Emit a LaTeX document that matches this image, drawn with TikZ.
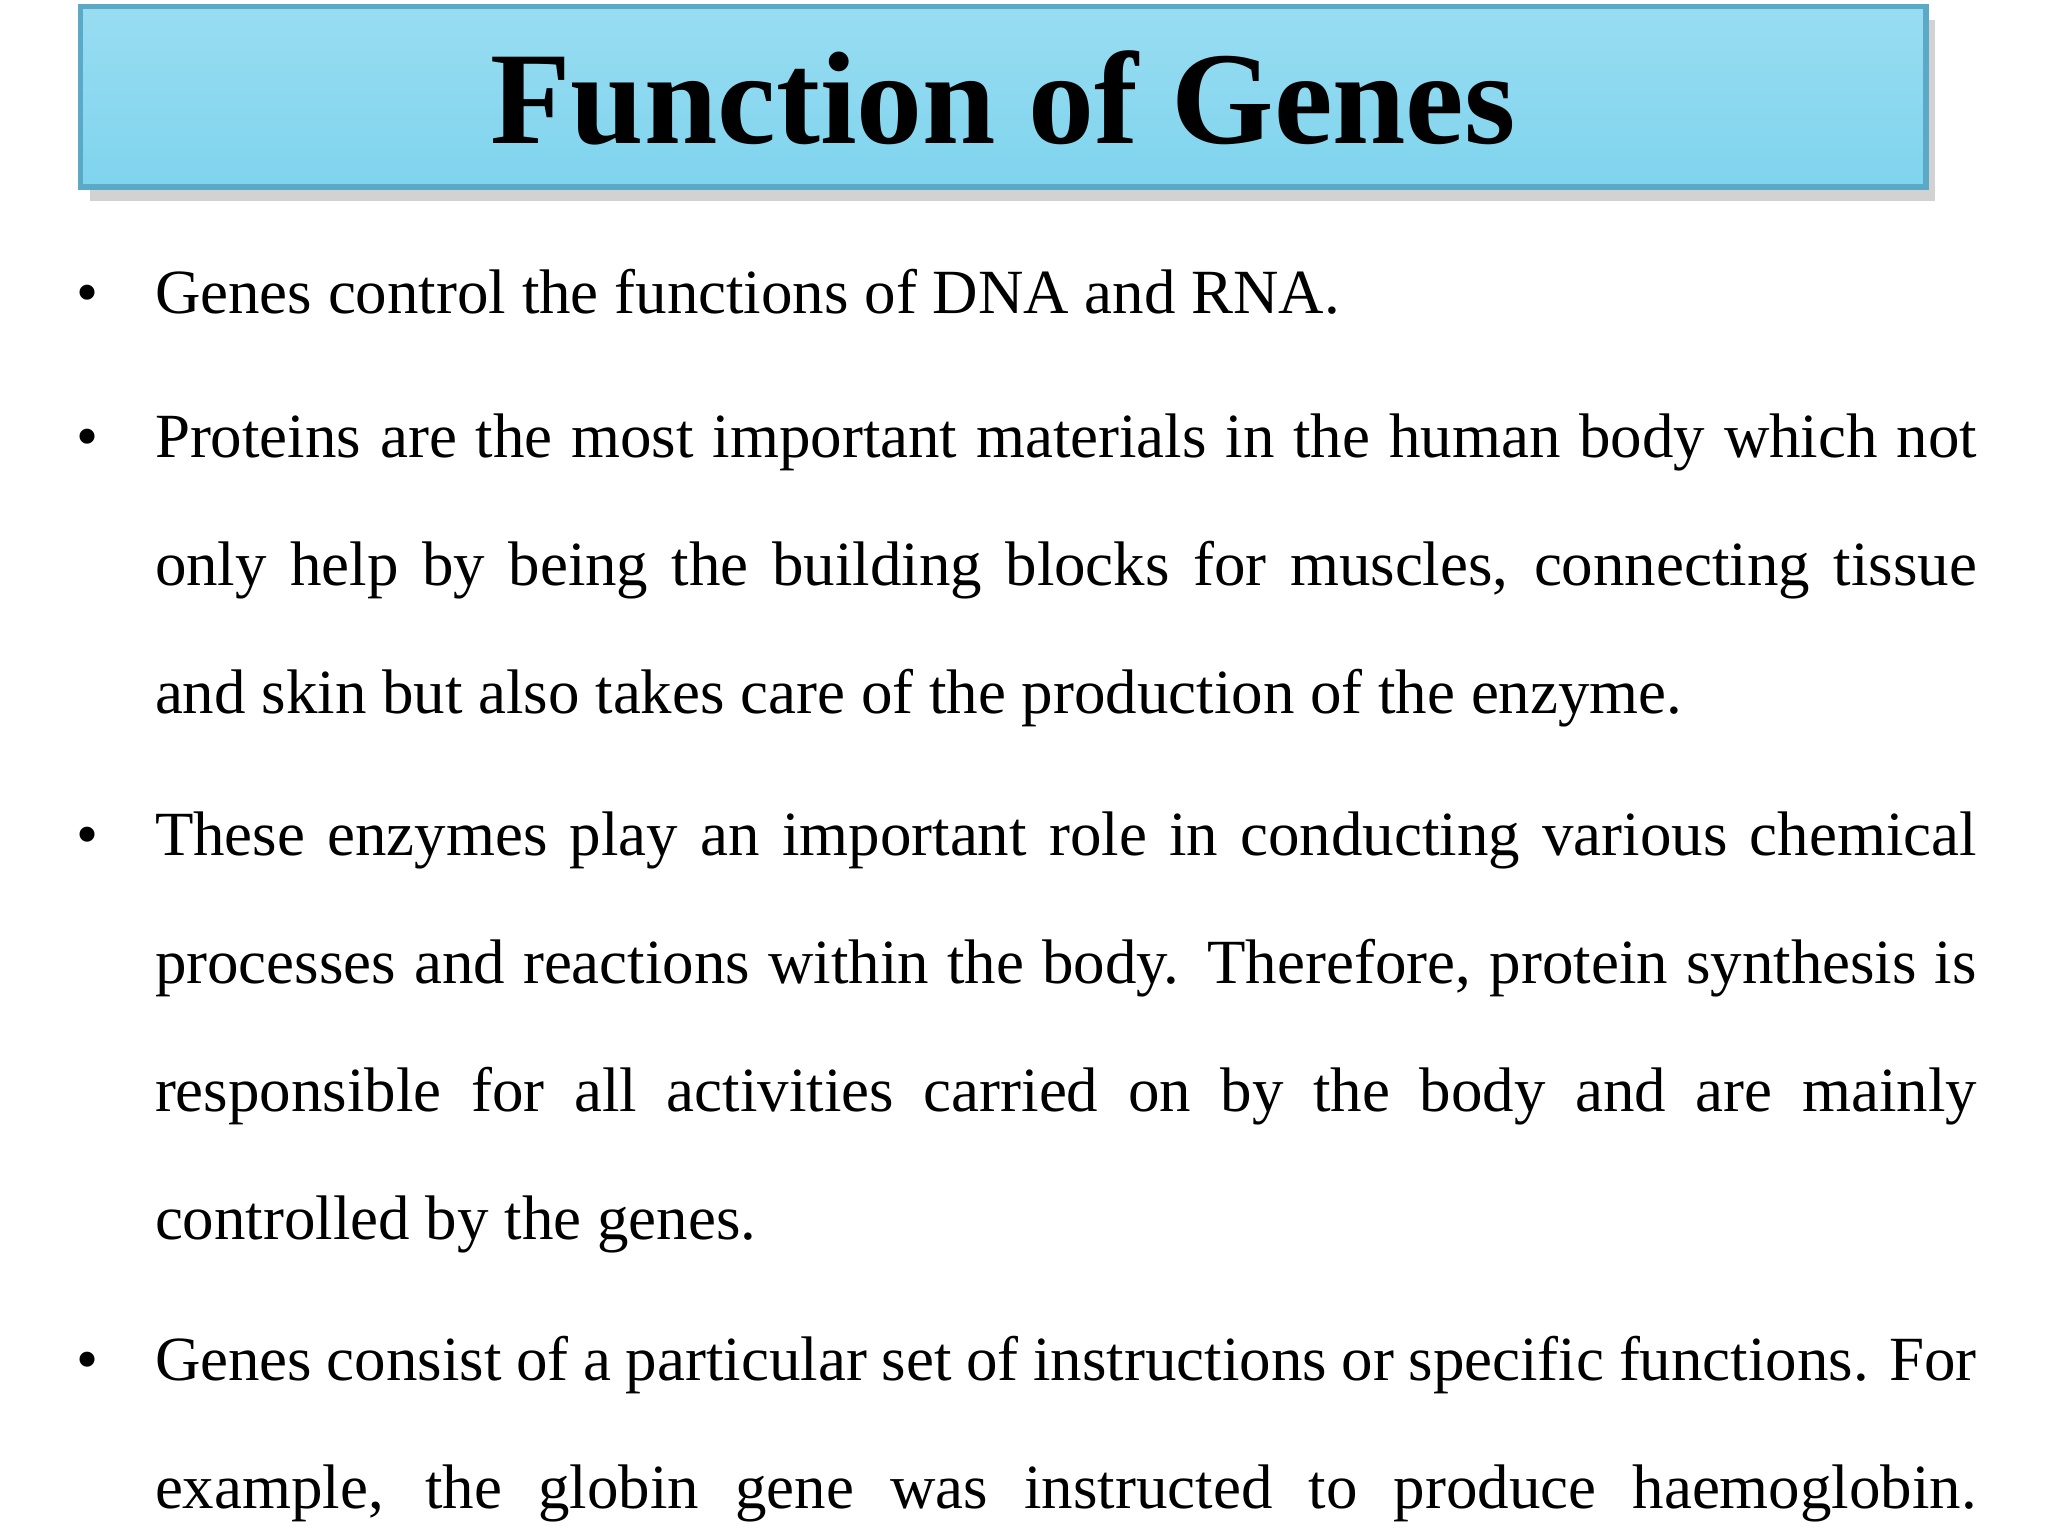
\documentclass[tikz,border=0pt]{standalone}
\usepackage{fontspec}
\setmainfont{Liberation Serif}
\usetikzlibrary{shadows}
\definecolor{titlefill}{HTML}{7FD4EE}
\definecolor{titleborder}{HTML}{5AA9C6}
\tikzset{
  para/.style={anchor=base west, inner sep=0pt, font=\fontsize{13.7pt}{27.9pt}\selectfont},
  bul/.style={anchor=base, inner sep=0pt, font=\fontsize{13.7pt}{27.9pt}\selectfont},
}
\newcommand{\pbox}[1]{\parbox[t]{13.94cm}{\fontsize{13.7pt}{27.9pt}\selectfont #1}}
\begin{document}
\begin{tikzpicture}[x=0.01cm,y=-0.01cm]
\useasboundingbox (0,0) rectangle (1568,1176);
\fill[white] (0,0) rectangle (1568,1176);
\node[draw=titleborder, line width=1.2pt, top color=titlefill!80!white, bottom color=titlefill, drop shadow={opacity=0.35, shadow xshift=2pt, shadow yshift=-3pt}, minimum width=14.12cm, minimum height=1.38cm, inner sep=0pt] (title) at (768,74) {};
\node[font=\fontsize{28.7pt}{30pt}\selectfont\bfseries, inner sep=0pt, anchor=base] (ttext) at (768,110) {Function of Genes};
\node[bul] (b1) at (67,240) {•};
\node[para] (p1) at (118,240) {\pbox{Genes control the functions of DNA and RNA.}};
\node[bul] (b2) at (67,350) {•};
\node[para] (p2) at (118,350) {\pbox{Proteins are the most important materials in the human body which not\linebreak only help by being the building blocks for muscles, connecting tissue\linebreak and skin but also takes care of the production of the enzyme.}};
\node[bul] (b3) at (67,655) {•};
\node[para] (p3) at (118,655) {\pbox{These enzymes play an important role in conducting various chemical\linebreak processes and reactions within the body. Therefore, protein synthesis is\linebreak responsible for all activities carried on by the body and are mainly\linebreak controlled by the genes.}};
\node[bul] (b4) at (67,1057) {•};
\node[para] (p4) at (118,1057) {\pbox{Genes consist of a particular set of instructions or specific functions. For\linebreak example, the globin gene was instructed to produce haemoglobin.\linebreak}};
\end{tikzpicture}
\end{document}
